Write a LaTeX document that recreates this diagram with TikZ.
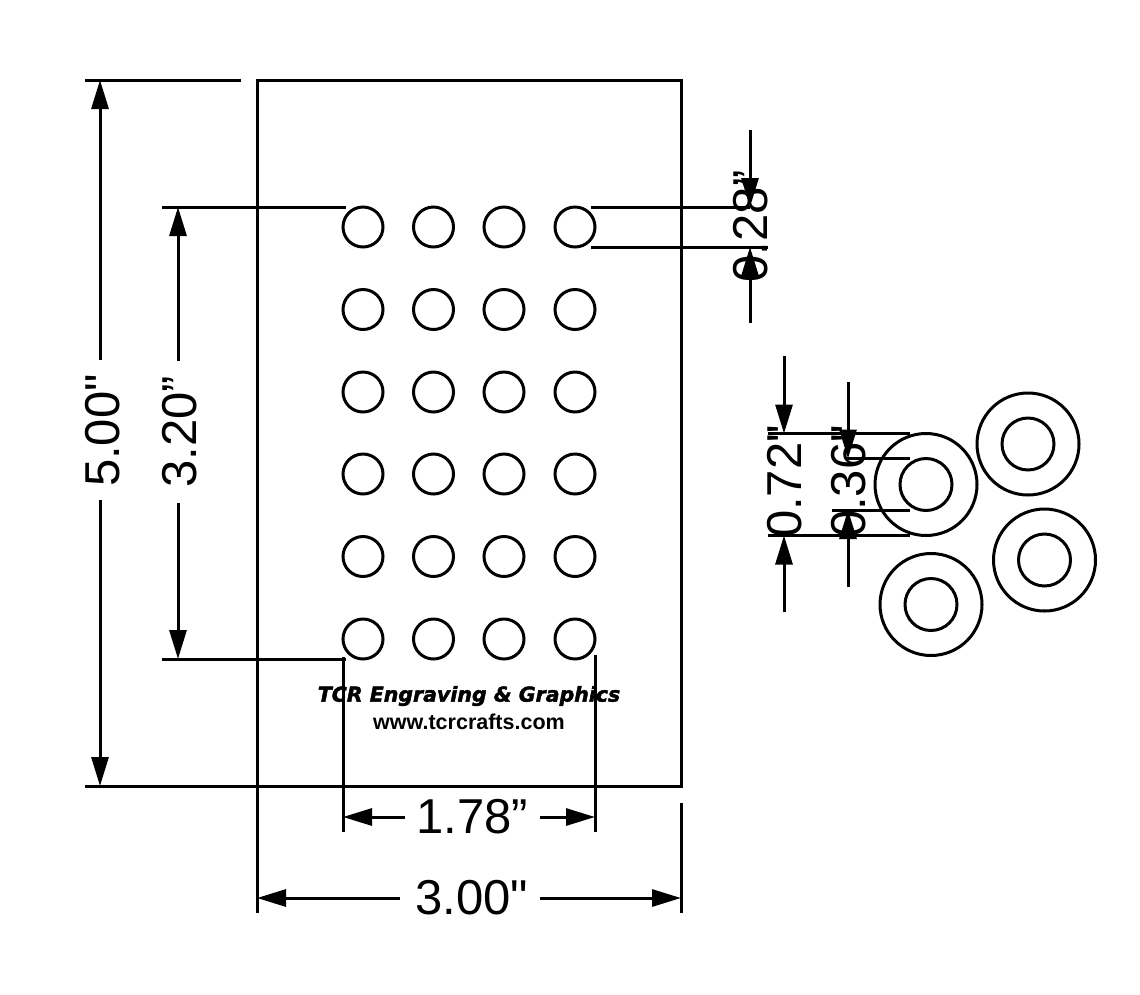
\documentclass[tikz,border=0pt]{standalone}
\usepackage{fontspec}
\setmainfont{Liberation Sans}
\newfontfamily\dimfont{Liberation Sans}
\newfontfamily\logofont[BoldItalicFeatures={FakeBold=2}]{DejaVu Sans}
\usetikzlibrary{arrows.meta}
\tikzset{
  part/.style={line width=3pt},
  dimline/.style={line width=3pt, -{Triangle[length=29pt,width=17pt]}},
  extline/.style={line width=3pt},
  dimtext/.style={font=\dimfont\fontsize{49}{49}\selectfont, inner sep=0pt},
  dimtextv/.style={dimtext, rotate=90}
}
\begin{document}
\begin{tikzpicture}[x=1pt, y=-1pt]
    \useasboundingbox (0, 0) rectangle (1140, 994);
    % plate
    \draw[part] (257, 80) rectangle (681, 786);
    % holes
    \foreach \hx in {363, 433.5, 504, 575}
      \foreach \hy in {227, 309.5, 392, 474, 556.5, 639}
        \draw[part] (\hx, \hy) circle (20);
    % washers
    \foreach \wx/\wy in {926/484.5, 1028/444, 1044.5/560, 931/604.5} {
      \draw[part] (\wx, \wy) circle (51);
      \draw[part] (\wx, \wy) circle (26);
    }
    % logo
    \node (logo) at (469, 696) [font=\logofont\bfseries\itshape\fontsize{20.5}{20.5}\selectfont, inner sep=0pt] {TCR Engraving \& Graphics};
    \node (web) at (469, 722) [font=\bfseries\fontsize{21.5}{21.5}\selectfont, inner sep=0pt] {www.tcrcrafts.com};
    % extension lines
    \draw[extline] (85, 80) -- (241, 80)
                   (85, 786) -- (272, 786)
                   (162, 207) -- (346, 207)
                   (162, 659) -- (346, 659)
                   (343, 657) -- (343, 832)
                   (595, 655) -- (595, 832)
                   (257, 786) -- (257, 913)
                   (681, 803) -- (681, 913)
                   (591, 207) -- (750, 207)
                   (591, 247) -- (768, 247)
                   (768, 433.5) -- (910, 433.5)
                   (768, 535.5) -- (910, 535.5)
                   (845, 458.5) -- (910, 458.5)
                   (832, 510) -- (910, 510);
    % dimension labels
    \node (wd) at (472, 898) [dimtext] {3.00"};
    \node (hl) at (472, 817) [dimtext] {1.78”};
    \node (ht) at (102.5, 430.5) [dimtextv] {5.00"};
    \node (hs) at (180, 432) [dimtextv] {3.20”};
    \node (dh) at (751, 226.5) [dimtextv] {0.28”};
    \node (do) at (785, 481.5) [dimtextv] {0.72"};
    \node (di) at (849, 481.5) [dimtextv] {0.36"};
    % dimension arrows
    \draw[dimline] (100, 360) -- (100, 80);
    \draw[dimline] (100, 500) -- (100, 786);
    \draw[dimline] (178, 361) -- (178, 207);
    \draw[dimline] (178, 503) -- (178, 659);
    \draw[dimline] (405, 817) -- (343, 817);
    \draw[dimline] (540, 817) -- (595, 817);
    \draw[dimline] (400, 898) -- (257, 898);
    \draw[dimline] (540, 898) -- (681, 898);
    \draw[dimline] (750, 130) -- (750, 207);
    \draw[dimline] (750, 323) -- (750, 247);
    \draw[dimline] (784, 356) -- (784, 433.5);
    \draw[dimline] (784, 612) -- (784, 535.5);
    \draw[dimline] (848, 382) -- (848, 458.5);
    \draw[dimline] (848, 587) -- (848, 510);
\end{tikzpicture}
\end{document}
